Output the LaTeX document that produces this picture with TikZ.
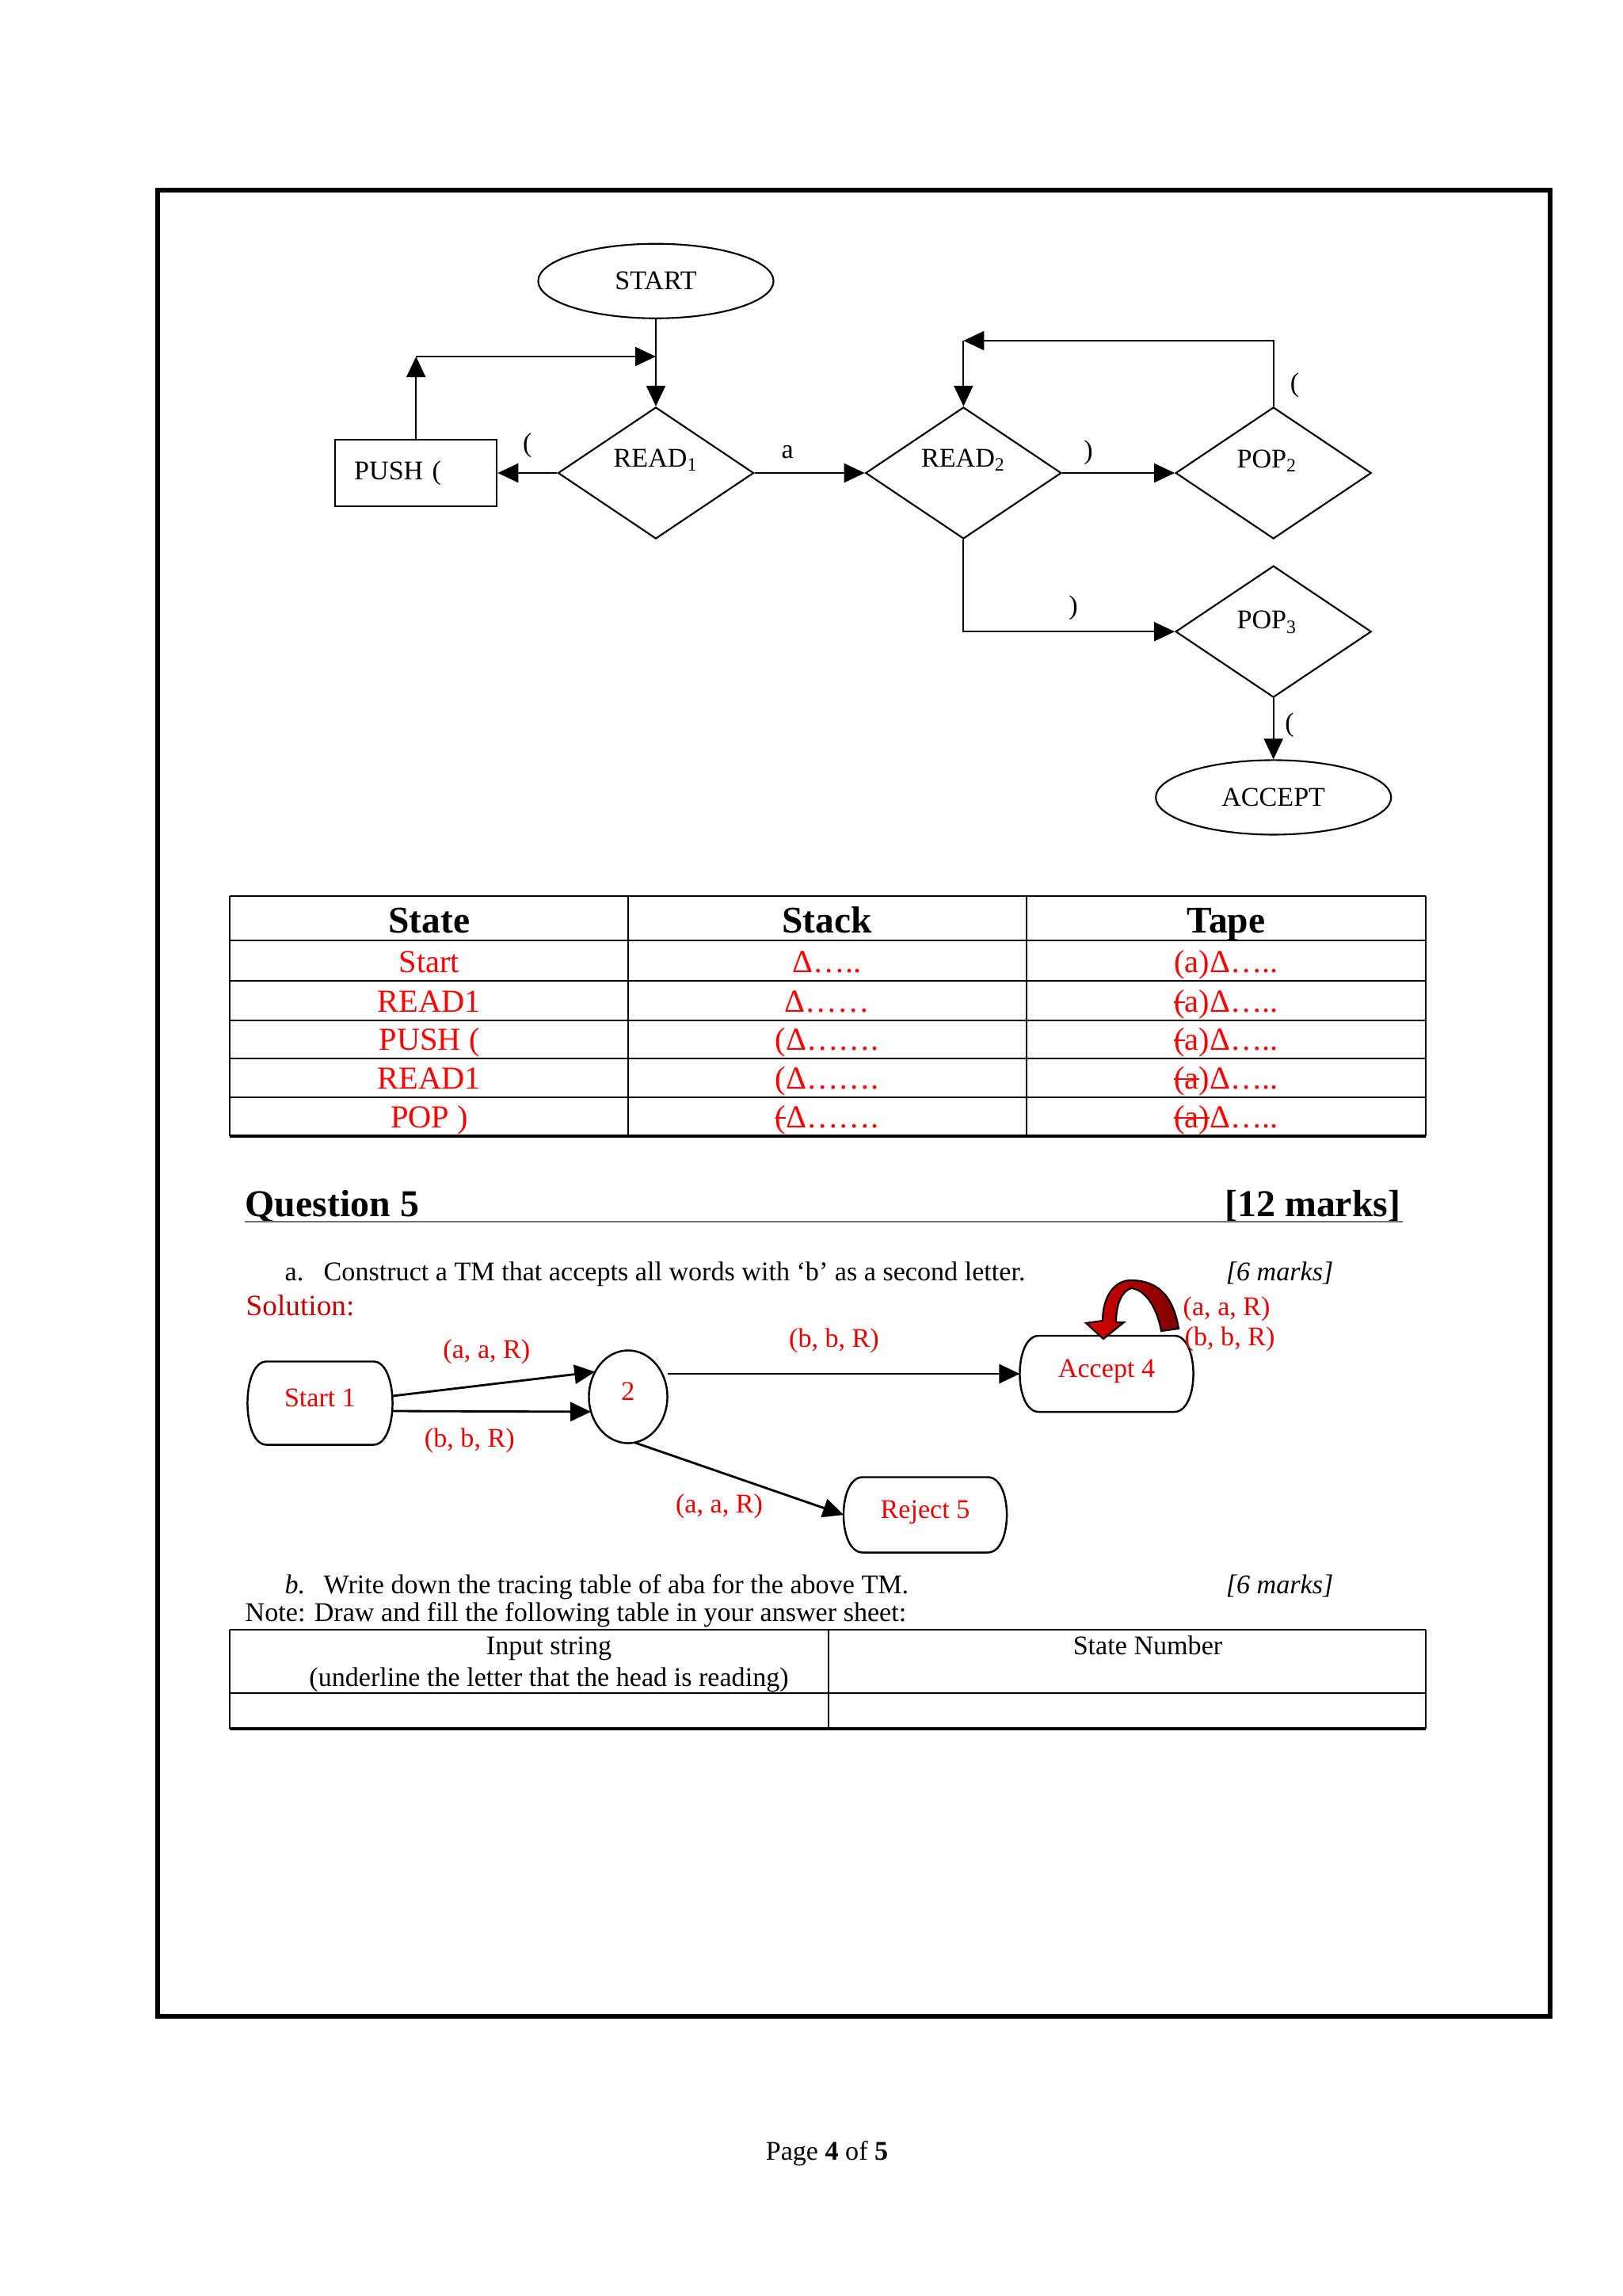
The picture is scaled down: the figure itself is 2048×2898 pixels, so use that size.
\documentclass[tikz,border=0pt]{standalone}
\usepackage{fontspec}
\setmainfont{Liberation Serif}
\usetikzlibrary{positioning, arrows.meta, shapes.geometric}

\definecolor{tmred}{RGB}{235,0,0}
\definecolor{solred}{RGB}{200,0,0}
\definecolor{loopred}{RGB}{215,0,0}
\definecolor{loopdark}{RGB}{125,0,0}

% strike-through for symbols already used
\newcommand{\strk}[1]{\leavevmode\setbox0=\hbox{#1}\rlap{\rule[0.27em]{\wd0}{0.045em}}\box0}
% outline of a TM state: flat top and bottom, bulging sides
\newcommand{\tmoutline}[1]{%
	\draw[line width=0.7pt] ([xshift=0.24cm]#1.north west) -- ([xshift=-0.24cm]#1.north east)
	.. controls ([xshift=0.08cm]#1.north east) and ([xshift=0.08cm]#1.south east) .. ([xshift=-0.24cm]#1.south east)
	-- ([xshift=0.24cm]#1.south west)
	.. controls ([xshift=-0.08cm]#1.south west) and ([xshift=-0.08cm]#1.north west) .. ([xshift=0.24cm]#1.north west) -- cycle;}

\begin{document}
\begin{tikzpicture}[
	x={(0.01cm,0)}, y={(0,-0.01cm)},
	>={Triangle[length=0.26cm, width=0.24cm]},
	font=\fontsize{9.7}{11.5}\selectfont,
	% Define styles
	terminal/.style={ellipse, draw, line width=0.6pt, minimum width=2.97cm, minimum height=0.94cm, inner sep=0},
	decision/.style={diamond, draw, line width=0.6pt, minimum width=2.47cm, minimum height=1.66cm, inner sep=0},
	process/.style={rectangle, draw, line width=0.6pt, minimum height=0.84cm, text width=1.56cm, inner xsep=0.24cm, align=left},
	arrow/.style={->, line width=0.6pt},
	sym/.style={inner sep=0},
	txt/.style={inner sep=0, anchor=base west},
	cell/.style={inner sep=0, anchor=base},
	head/.style={cell, font=\fontsize{13.5}{15}\selectfont\bfseries},
	entry/.style={cell, text=red, font=\fontsize{11.5}{13}\selectfont},
	tmstate/.style={rectangle, outer sep=0, inner sep=0, text depth=0.13cm, text=tmred},
	tmarrow/.style={->, line width=0.8pt},
	tmlabel/.style={inner sep=0, text=tmred},
	tabrule/.style={line width=0.7pt}
	]
	
	% page and frame
	\path[fill=white] (0,0) rectangle (2048,2898);
	\useasboundingbox (0,0) rectangle (2048,2898);
	\draw[line width=1.85pt] (199,240) rectangle (1957,2545);
	
	% 1. Flow chart
	\node[decision, label={[yshift=0.16cm]center:READ\textsubscript{1}}] (read1) at (828,597) {};
	\node[terminal, above=1.1cm of read1] (start) {START};
	\node[process, left=0.75cm of read1] (push) {PUSH (};
	\node[decision, right=1.39cm of read1, label={[yshift=0.16cm]center:READ\textsubscript{2}}] (read2) {};
	\node[decision, right=1.42cm of read2, label={[xshift=-0.08cm, yshift=0.15cm]center:POP\textsubscript{2}}] (pop2) {};
	\node[decision, below=0.32cm of pop2, label={[xshift=-0.08cm, yshift=0.12cm]center:POP\textsubscript{3}}] (pop3) {};
	\node[terminal, below=0.77cm of pop3] (accept) {ACCEPT};
	
	\coordinate (levelA) at (0,450);
	\coordinate (levelB) at (0,430);
	\coordinate (pushup) at (push.north |- levelA);
	\coordinate (looptop) at (read2.north |- levelB);
	
	\draw[arrow] (start) -- (read1);
	\draw[arrow] (read1) -- (push) node[midway, above=0.185cm, sym] {(};
	\draw[arrow] (push.north) -- (pushup);
	\draw[arrow] (pushup) -- (pushup -| start.south);
	\draw[arrow] (read1) -- (read2) node[midway, above=0.175cm, xshift=-0.28cm, sym] {a};
	\draw[arrow] (read2) -- (pop2) node[midway, above=0.095cm, xshift=-0.38cm, sym] {)};
	\draw[arrow] (pop2.north) |- (looptop) node[pos=0.16, right=0.2cm, sym] {(};
	\draw[arrow] (looptop) -- (read2.north);
	\draw[arrow] (read2.south) |- (pop3.west) node[pos=0.76, above=0.135cm, sym] {)};
	\draw[arrow] (pop3) -- (accept) node[pos=0.44, right=0.135cm, sym] {(};
	
	% 2. Tracing table
	\draw[tabrule] (290,1131) -- (1800,1131) (290,1187) -- (1800,1187) (290,1238) -- (1800,1238)
	(290,1288) -- (1800,1288) (290,1336) -- (1800,1336) (290,1385) -- (1800,1385);
	\draw[line width=1pt] (290,1434) -- (1800,1434);
	\draw[tabrule] (290,1131) -- (290,1434) (793,1131) -- (793,1434) (1296,1131) -- (1296,1434) (1800,1131) -- (1800,1434);
	
	\node[head] (hstate) at (542,1177) {State};
	\node[head] (hstack) at (1044,1177) {Stack};
	\node[head] (htape) at (1548,1177) {Tape};
	
	\node[entry] (st1) at (542,1227) {Start};
	\node[entry] (sk1) at (1044,1227) {Δ…..};
	\node[entry] (tp1) at (1548,1227) {(a)Δ…..};
	\node[entry] (st2) at (542,1277) {READ1};
	\node[entry] (sk2) at (1044,1277) {Δ……};
	\node[entry] (tp2) at (1548,1277) {\strk{(}a)Δ…..};
	\node[entry] (st3) at (542,1325) {PUSH (};
	\node[entry] (sk3) at (1044,1325) {(Δ…….};
	\node[entry] (tp3) at (1548,1325) {\strk{(}a)Δ…..};
	\node[entry] (st4) at (542,1374) {READ1};
	\node[entry] (sk4) at (1044,1374) {(Δ…….};
	\node[entry] (tp4) at (1548,1374) {\strk{(a})Δ…..};
	\node[entry] (st5) at (542,1423) {POP )};
	\node[entry] (sk5) at (1044,1423) {\strk{(}Δ…….};
	\node[entry] (tp5) at (1548,1423) {\strk{(a)}Δ…..};
	
	% 3. Question 5
	\node[txt, font=\fontsize{13.6}{15}\selectfont\bfseries] (qtitle) at (309,1535) {Question 5};
	\node[txt, anchor=base east, font=\fontsize{13.6}{15}\selectfont\bfseries] (qmarks) at (1769,1535) {[12 marks]};
	\draw[line width=0.7pt, black!55] ([yshift=-0.07cm]qtitle.base west) -- ([yshift=-0.07cm, xshift=0.02cm]qmarks.base east);
	
	\node[txt] (parta) at (359,1616) {\makebox[0.49cm][l]{a.}Construct a TM that accepts all words with ‘b’ as a second letter.};
	\node[txt, anchor=base east] (marka) at (1684,1616) {\textit{[6 marks]}};
	\node[txt, text=solred, font=\fontsize{10.6}{12}\selectfont] (sol) at (310,1660) {Solution:};
	
	% 4. Turing machine
	\node[tmstate, minimum width=1.83cm, minimum height=1.05cm] (s1) at (404,1771) {Start 1};
	\node[ellipse, draw, line width=0.7pt, minimum width=0.99cm, minimum height=1.17cm, inner sep=0, outer sep=0, text depth=0.13cm, text=tmred] (q2) at (793,1763) {2};
	\node[tmstate, minimum width=2.19cm, minimum height=0.96cm] (a4) at (1397,1734) {Accept 4};
	\node[tmstate, minimum width=2.06cm, minimum height=0.95cm] (r5) at (1168,1912) {Reject 5};
	\tmoutline{s1}
	\tmoutline{a4}
	\tmoutline{r5}
	
	\draw[tmarrow] ([yshift=0.09cm]s1.east) -- (q2.143) node[midway, above=0.235cm, xshift=-0.09cm, tmlabel] {(a, a, R)};
	\draw[tmarrow] ([yshift=-0.1cm]s1.east) -- (q2.202) node[midway, below=0.195cm, xshift=-0.28cm, tmlabel] {(b, b, R)};
	\draw[tmarrow] (q2.east |- a4.west) -- (a4.west) node[midway, above=0.245cm, xshift=-0.12cm, tmlabel] {(b, b, R)};
	\draw[tmarrow] (q2.278) -- (r5.west) node[midway, below=0.185cm, xshift=-0.25cm, tmlabel] {(a, a, R)};
	
	% self loop on the accept state
	\path[draw=black, line width=0.6pt, left color=loopred, right color=loopdark]
	(1466,1680) -- (1488,1677) .. controls (1481,1634) and (1460,1615) .. (1425,1616)
	.. controls (1404,1618) and (1392,1640) .. (1392,1667) -- (1371,1670) -- (1393,1690) -- (1419,1669) -- (1409,1669)
	.. controls (1409,1646) and (1416,1630) .. (1428,1626)
	.. controls (1447,1628) and (1461,1652) .. (1466,1680) -- cycle;
	\node[txt, tmlabel] (loopa) at (1493,1660) {(a, a, R)};
	\node[txt, tmlabel] (loopb) at (1495,1698) {(b, b, R)};
	
	% 5. Part b and answer table
	\node[txt] (partb) at (359,2011) {\makebox[0.49cm][l]{\textit{b.}}Write down the tracing table of aba for the above TM.};
	\node[txt, anchor=base east] (markb) at (1684,2011) {\textit{[6 marks]}};
	\node[txt] (note) at (309,2046) {Note: Draw and fill the following table in your answer sheet:};
	
	\draw[tabrule] (290,2057) -- (1800,2057) (290,2137) -- (1800,2137);
	\draw[line width=1pt] (290,2182) -- (1800,2182);
	\draw[tabrule] (290,2057) -- (290,2182) (1046,2057) -- (1046,2182) (1800,2057) -- (1800,2182);
	\node[cell] (hinput) at (693,2088) {Input string};
	\node[cell] (hunder) at (693,2128) {(underline the letter that the head is reading)};
	\node[cell] (hnum) at (1449,2088) {State Number};
	
	% footer
	\node[cell] (page) at (1044,2726) {Page \textbf{4} of \textbf{5}};
\end{tikzpicture}
\end{document}
